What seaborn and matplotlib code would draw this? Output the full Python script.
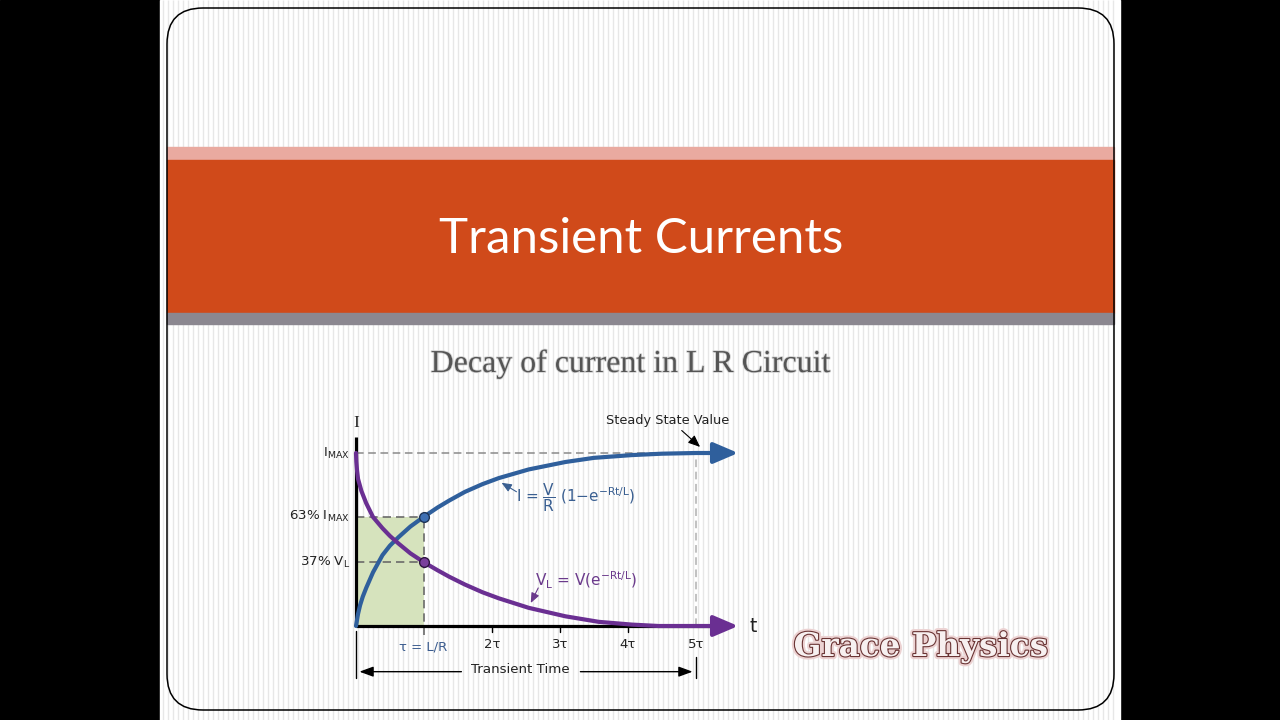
import numpy as np
import pandas as pd
import matplotlib
matplotlib.use("Agg")
import matplotlib.pyplot as plt
import matplotlib.patheffects as pe
from matplotlib.patches import Rectangle, FancyBboxPatch
import seaborn as sns

# ---------------- data ----------------
title = "Transient Currents"
subtitle = "Decay of current in L R Circuit"
watermark = "Grace Physics"

# time in units of tau
current_t = [0.00, 0.03, 0.06, 0.10, 0.15, 0.25, 0.39, 0.50, 0.63, 0.80, 1.00,
             1.20, 1.37, 1.60, 1.86, 2.10, 2.54, 3.08, 3.50, 4.06, 4.50, 5.00, 5.45]
current_v = [0.00, 0.07, 0.12, 0.17, 0.22, 0.31, 0.41, 0.465, 0.515, 0.575, 0.632,
             0.685, 0.725, 0.775, 0.82, 0.855, 0.905, 0.948, 0.972, 0.988, 0.996, 1.00, 1.00]

voltage_t = [0.00, 0.005, 0.015, 0.03, 0.08, 0.15, 0.25, 0.39, 0.50, 0.63, 0.80, 1.00,
             1.20, 1.37, 1.60, 1.86, 2.10, 2.54, 3.08, 3.57, 4.06, 4.45, 5.00, 5.45]
voltage_v = [1.00, 0.95, 0.90, 0.85, 0.78, 0.71, 0.63, 0.565, 0.52, 0.475, 0.42, 0.368,
             0.322, 0.285, 0.24, 0.195, 0.16, 0.105, 0.056, 0.024, 0.008, 0.00, 0.00, 0.00]

tau_t = 1.0
current_at_tau = 0.632
voltage_at_tau = 0.368
steady_value = 1.0
settle_t = 5.0
arrow_end_t = 5.62

tick_positions = [2, 3, 4, 5]
tick_labels = ["2τ", "3τ", "4τ", "5τ"]
tau_label = "τ = L/R"
level_values = [1.0, 0.632, 0.368]
level_labels = [r"$\mathrm{I}_{\mathrm{MAX}}$", r"63% $\mathrm{I}_{\mathrm{MAX}}$",
                r"37% $\mathrm{V}_{\mathrm{L}}$"]

current_df = pd.DataFrame({"t": current_t, "v": current_v})
voltage_df = pd.DataFrame({"t": voltage_t, "v": voltage_v})

# ---------------- style ----------------
sns.set_style("white")
plt.rcParams["font.family"] = ["DejaVu Sans"]
plt.rcParams["mathtext.fontset"] = "dejavusans"
plt.rcParams["mathtext.default"] = "regular"

BLUE = "#2f5f9c"
PURPLE = "#6a2f92"
BLUE_TXT = "#3a5f91"
PURPLE_TXT = "#6b3a8c"

fig = plt.figure(figsize=(12.8, 7.2), dpi=100)

# ---------------- slide background ----------------
bg = fig.add_axes([0, 0, 1, 1], zorder=0)
bg.set_xlim(0, 1280)
bg.set_ylim(720, 0)
bg.axis("off")
bg.add_patch(Rectangle((0, 0), 1280, 720, color="black", zorder=0))
bg.add_patch(Rectangle((160, 0), 960, 720, color="white", zorder=1))
bg.vlines(np.arange(163, 1118, 5), 0, 720, color="#e7e7e7", lw=1.0, zorder=2)
bg.add_patch(Rectangle((167, 147), 947, 12.5, color="#e9aaa0", zorder=3))
bg.add_patch(Rectangle((167, 159.5), 947, 153.5, color="#d04a1a", zorder=3))
bg.add_patch(Rectangle((167, 313), 947, 10.5, color="#8b8790", zorder=3))
bg.add_patch(FancyBboxPatch((167, 8), 947, 702,
                            boxstyle="round,pad=0,rounding_size=36",
                            fill=False, ec="black", lw=1.1, zorder=4))

fig.text(641 / 1280, 1 - 253 / 720, title, color="white", ha="center",
         va="baseline", fontsize=35.5, family=["Lato", "DejaVu Sans"])
fig.text(631 / 1280, 1 - 372 / 720, subtitle, color="#555555", ha="center",
         va="baseline", fontsize=23, family=["Liberation Serif", "DejaVu Serif"],
         path_effects=[pe.withStroke(linewidth=1.2, foreground="#d2d2d2")])
fig.text(921 / 1280, 1 - 656 / 720, watermark, color="#f7f0f0", ha="center",
         va="baseline", fontsize=23.5, fontweight="bold",
         family=["DejaVu Serif"],
         path_effects=[pe.Stroke(linewidth=4.5, foreground="#ecd2d2"),
                       pe.Stroke(linewidth=1.6, foreground="#6a3434"),
                       pe.Normal()])

# ---------------- chart ----------------
ax = fig.add_axes([288 / 1280, 7.5 / 720, 510 / 1280, 311.4 / 720], zorder=5)
ax.set_xlim(-1, 6.5)
ax.set_ylim(-0.5, 1.3)
ax.patch.set_alpha(0)
ax.axis("off")

# shaded region up to one time constant
ax.fill_between([0, tau_t], 0, current_at_tau, color="#d6e3bd", zorder=1, lw=0)

# guide lines
ax.plot([0, settle_t + 0.3], [steady_value, steady_value], color="#8a8a8a",
        lw=1.1, ls=(0, (5, 3)), zorder=2)
ax.plot([settle_t, settle_t], [0, steady_value], color="#b0b0b0",
        lw=1.1, ls=(0, (5, 3)), zorder=2)
ax.plot([0, tau_t], [current_at_tau, current_at_tau], color="#6a6a6a",
        lw=1.2, ls=(0, (5, 3)), zorder=2)
ax.plot([0, tau_t], [voltage_at_tau, voltage_at_tau], color="#6a6a6a",
        lw=1.2, ls=(0, (5, 3)), zorder=2)
ax.plot([tau_t, tau_t], [-0.05, current_at_tau], color="#6a6a6a",
        lw=1.2, ls=(0, (5, 3)), zorder=2)

# axes lines
ax.plot([0, 0], [0, 1.09], color="black", lw=2.3, zorder=3, solid_capstyle="butt")
ax.plot([0, arrow_end_t - 0.1], [0, 0], color="black", lw=2.3, zorder=3,
        solid_capstyle="butt")
for p in tick_positions[:-1]:
    ax.plot([p, p], [0, -0.035], color="black", lw=1.0, zorder=3)

# curves
sns.lineplot(data=current_df, x="t", y="v", ax=ax, color=BLUE, lw=3.0,
             sort=False, zorder=4, legend=False)
sns.lineplot(data=voltage_df, x="t", y="v", ax=ax, color=PURPLE, lw=3.0,
             sort=False, zorder=4, legend=False)
ax.set_xlabel("")
ax.set_ylabel("")
ax.axis("off")

arrow_head = "-|>,head_length=0.75,head_width=0.32"
ax.annotate("", xy=(arrow_end_t, current_v[-1]), xytext=(current_t[-1] - 0.05, current_v[-1]),
            arrowprops=dict(arrowstyle=arrow_head, color=BLUE, lw=3.0,
                            mutation_scale=20, shrinkA=0, shrinkB=0), zorder=4)
ax.annotate("", xy=(arrow_end_t, voltage_v[-1]), xytext=(voltage_t[-1] - 0.05, voltage_v[-1]),
            arrowprops=dict(arrowstyle=arrow_head, color=PURPLE, lw=3.0,
                            mutation_scale=20, shrinkA=0, shrinkB=0), zorder=4)

# markers at one time constant
ax.plot([tau_t], [current_at_tau], "o", ms=7, mfc="#3e6fb3", mec="#1e3456",
        mew=1.0, zorder=6)
ax.plot([tau_t], [voltage_at_tau], "o", ms=7, mfc="#7a3f9c", mec="#2e1540",
        mew=1.0, zorder=6)

# axis texts
ax.text(0.01, 1.175, "I", ha="center", va="center", fontsize=12.5,
        family=["Liberation Serif"], color="#222222")
ax.text(5.84, 0.0, "t", ha="center", va="center", fontsize=13.5, color="#222222")
for val, lab in zip(level_values, level_labels):
    ax.text(-0.09, val, lab, ha="right", va="center", fontsize=9.6, color="#222222")
for p, lab in zip(tick_positions, tick_labels):
    ax.text(p, -0.105, lab, ha="center", va="center", fontsize=9.5, color="#222222")
ax.text(tau_t - 0.02, -0.12, tau_label, ha="center", va="center", fontsize=9.5,
        color="#3b5c8e")

# steady state annotation
ax.text(4.59, 1.19, "Steady State Value", ha="center", va="center",
        fontsize=9.3, color="#222222")
ax.annotate("", xy=(5.06, 1.035), xytext=(4.79, 1.13),
            arrowprops=dict(arrowstyle="-|>,head_length=0.6,head_width=0.25",
                            color="black", lw=0.8, mutation_scale=12,
                            shrinkA=0, shrinkB=0))

# formula labels
ax.text(2.35, 0.745,
        r"I = $\dfrac{\mathrm{V}}{\mathrm{R}}$ (1$-$e$^{\mathrm{-Rt/L}}$)",
        ha="left", va="center", fontsize=11, color=BLUE_TXT)
ax.annotate("", xy=(2.14, 0.828), xytext=(2.36, 0.776),
            arrowprops=dict(arrowstyle="-|>,head_length=0.6,head_width=0.25",
                            color=BLUE_TXT, lw=0.8, mutation_scale=10,
                            shrinkA=0, shrinkB=0))
ax.text(2.63, 0.262, r"V$_{\mathrm{L}}$ = V(e$^{\mathrm{-Rt/L}}$)",
        ha="left", va="center", fontsize=11, color=PURPLE_TXT)
ax.annotate("", xy=(2.57, 0.133), xytext=(2.68, 0.22),
            arrowprops=dict(arrowstyle="-|>,head_length=0.6,head_width=0.25",
                            color=PURPLE_TXT, lw=0.8, mutation_scale=10,
                            shrinkA=0, shrinkB=0))

# transient time bracket
ax.plot([0, 0], [-0.03, -0.30], color="black", lw=1.0)
ax.plot([settle_t, settle_t], [-0.18, -0.30], color="black", lw=1.0)
ax.text(2.41, -0.25, "Transient Time", ha="center", va="center",
        fontsize=9.6, color="#222222")
ax.annotate("", xy=(0.05, -0.264), xytext=(1.55, -0.264),
            arrowprops=dict(arrowstyle="-|>,head_length=0.6,head_width=0.22",
                            color="black", lw=1.0, mutation_scale=14,
                            shrinkA=0, shrinkB=0))
ax.annotate("", xy=(4.95, -0.264), xytext=(3.3, -0.264),
            arrowprops=dict(arrowstyle="-|>,head_length=0.6,head_width=0.22",
                            color="black", lw=1.0, mutation_scale=14,
                            shrinkA=0, shrinkB=0))

fig.savefig("out.png", dpi=100)
